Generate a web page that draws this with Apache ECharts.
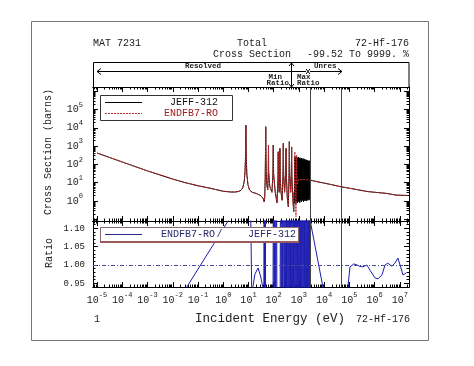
<!DOCTYPE html>
<html><head><meta charset="utf-8">
<script src="https://cdn.jsdelivr.net/npm/echarts@6/dist/echarts.min.js"></script>
<style>html,body{margin:0;padding:0;background:#fff}#c{width:474px;height:366px}</style>
</head><body><div id="c"></div>
<script>
// ---------- tick labels ----------
const xTickExp = [-5,-4,-3,-2,-1,0,1,2,3,4,5,6,7];
const yTickExp = [0,1,2,3,4,5];
const ratioTicks = [0.95,1.00,1.05,1.10];

// ---------- cross sections (eV, barns) ----------
// shared low-energy / resolved part (JEFF-312 and ENDFB7-RO overlap)
const lowE  = [1e-5,3e-5,1e-4,3e-4,1e-3,3e-3,0.01,0.03,0.1,0.3,1,2,3,4,5,6,6.8,7.3,7.6,7.8,7.89,8.0,8.2,8.6,9.5,11,14,20,30,38,42,44,46,47.5,48.3,49,50.5,53,58,61,62,63,70,85,93,96,99,115,135,148,151,154,165,172,176,180,195,215,233,240,247,270,295,308,320,345,380,405,416,428,470,500,513,526,570,620,650];
const lowXS = [420,244,135,79,44,27,15.8,10.2,6.8,5.0,3.4,3.1,3.1,3.3,3.8,5.5,12,40,200,2500,14000,2500,200,30,8,4,3,2.6,2.0,1.4,0.9,1.5,20,800,11500,800,40,8,4,40,1150,40,6,3,30,1150,30,3,0.8,20,490,20,3,20,750,20,3,1.1,30,1430,30,3,25,750,20,1.5,0.49,30,1750,30,3,25,900,20,1.5,0.26,3];
// JEFF-312 dense resonances
const jeffDenseE  = [660,684,708,733,759,786,814,842,872,903,935,968,1002,1037,1074,1112,1151,1192,1234,1278,1323,1370,1418,1468,1520,1574,1630,1687,1747,1809,1873,1939,2007,2078,2152,2228,2307,2388,2473,2560,2700];
const jeffDenseXS = [0.8,260,0.9,230,0.7,250,1.0,240,0.8,220,0.9,250,1.0,210,0.8,230,1.1,200,0.9,220,1.0,190,1.2,210,0.9,180,1.1,200,1.0,170,1.2,180,1.0,160,1.1,170,1.3,150,1.1,160,1.2];
// ENDFB7-RO upper resolved part
const endfMidE  = [670,690,710,760,790,810,830,870,950,1200,2000];
const endfMidXS = [30,490,20,0.14,20,330,20,8,15,15,14.5];
// shared smooth high-energy part
const highE  = [2750,5000,1e4,2e4,4.6e4,1e5,2e5,5e5,1e6,3e6,7e6,1.2e7,2e7];
const highXS = [14,11.5,9.5,7.8,6.0,5.0,4.2,3.3,3.0,2.6,2.1,2.05,2.0];

// ---------- ratio ENDFB7-RO / JEFF-312 ----------
const ratioLowE   = [1e-5,1e-3,0.01,0.0363,1.55,5,10,12.3,13.5,15,18,24,30,37,39,40,42,44,46,48,52,60,80,93,98,104,112,120,128,135,160,178,188,200,215,230,245,262,280,300,315];
const ratioLowVal = [0.86,0.89,0.91,0.94,1.12,1.25,1.30,1.13,0.92,0.94,0.975,0.992,0.97,0.94,0.85,0.70,1.40,0.70,1.40,0.80,0.90,0.90,0.90,0.80,1.40,0.70,1.40,0.70,1.40,0.80,0.90,0.80,1.40,0.70,1.40,0.70,1.40,0.70,1.40,0.70,1.40];
const ratioDenseE   = [330,348,367,387,408,430,453,478,504,531,560,591,623,657,692,730,770,812,856,902,951,1003,1057,1115,1175,1239,1307,1378,1453,1532,1615,1703,1795,1893,1996,2105,2219,2340,2467,2601,2740];
const ratioDenseVal = [0.6,1.5,0.7,1.4,0.6,1.5,0.7,1.5,0.6,1.4,0.7,1.5,0.6,1.5,0.7,1.4,0.6,1.5,0.7,1.5,0.6,1.4,0.7,1.5,0.6,1.5,0.7,1.4,0.6,1.5,0.7,1.5,0.6,1.4,0.7,1.5,0.6,1.5,0.7,1.4,0.6];
const ratioHighE   = [2760,2800,8900,12000,50000,80000,87000,1.05e5,1.5e5,2e5,2.6e5,3.4e5,4.9e5,6.5e5,1.02e6,1.35e6,1.95e6,2.57e6,3.3e6,4.8e6,6.3e6,8.3e6,1.1e7,1.32e7,1.74e7];
const ratioHighVal = [1.30,1.12,0.94,0.90,0.88,0.90,0.94,0.995,1.003,1.0,0.996,0.995,1.0,0.986,0.965,0.962,0.973,1.0,1.005,0.997,1.005,1.019,0.992,0.973,0.978];

// energy-range boundaries (eV)
const boundaryE = [2730, 46000];

// ---------- build ----------
const F = 'Liberation Mono';
const L = Math.log10;
const XMIN = -5.16, XMAX = 7.36;
const YMIN = -1.093, YMAX = 6.23;
const RMIN = 0.94, RMAX = 1.12;

function pairs(E, V, logY){ return E.map((e,i)=>[L(e), logY ? L(V[i]) : V[i]]); }
const jeffData = pairs(lowE.concat(jeffDenseE, highE), lowXS.concat(jeffDenseXS, highXS), true);
const endfData = pairs(lowE.concat(endfMidE, highE), lowXS.concat(endfMidXS, highXS), true);
const ratioData = pairs(ratioLowE.concat(ratioDenseE, ratioHighE), ratioLowVal.concat(ratioDenseVal, ratioHighVal), false);

function minorLog(lo, hi){ const out=[]; for(let d=Math.floor(lo)-1; d<=Math.ceil(hi); d++) for(let k=2;k<=9;k++){const v=d+L(k); if(v>lo && v<hi) out.push(v);} return out; }
const xMinor = minorLog(XMIN, XMAX);
const yMajor = [-1,0,1,2,3,4,5,6];
const yMinor = minorLog(YMIN, YMAX);
const rMinor = []; for(let i=94;i<=112;i++){ if(i%5) rMinor.push(i/100); }

const richSup = {
  a:{fontFamily:F, fontSize:10, color:'#222', lineHeight:16},
  s:{fontFamily:F, fontSize:7, color:'#222', lineHeight:7, verticalAlign:'top'}
};
const supFmt = v => '{a|10}{s|' + Math.round(v) + '}';

function axis(grid, pos, min, max, ticks, len, label){
  return {type:'value', gridIndex:grid, position:pos, min, max,
    splitLine:{show:false},
    axisLine:{show:true, onZero:false, lineStyle:{color:'#000', width:1}},
    axisTick:{show:true, inside:true, length:len, customValues:ticks, lineStyle:{color:'#000', width:1}},
    axisLabel: label || {show:false}};
}
const common = {show:true, showMinLabel:true, showMaxLabel:true, hideOverlap:false};
const xLabel = Object.assign({customValues:xTickExp, formatter:supFmt, rich:richSup, margin:5}, common);
const yLabel = Object.assign({customValues:yTickExp, formatter:supFmt, rich:richSup, margin:10}, common);
const rLabel = Object.assign({customValues:ratioTicks, formatter:v=>v.toFixed(2), fontFamily:F, fontSize:9, color:'#222', margin:8}, common);

const xAxes = [], yAxes = [];
[0,1].forEach(gi=>{
  xAxes.push(axis(gi, 'bottom', XMIN, XMAX, xTickExp, 5, gi===1 ? xLabel : null));
  xAxes.push(axis(gi, 'bottom', XMIN, XMAX, xMinor, 2.5));
  xAxes.push(axis(gi, 'top', XMIN, XMAX, xTickExp, 5));
  xAxes.push(axis(gi, 'top', XMIN, XMAX, xMinor, 2.5));
});
yAxes.push(axis(0, 'left', YMIN, YMAX, yMajor, 5, yLabel));
yAxes.push(axis(0, 'left', YMIN, YMAX, yMinor, 2.5));
yAxes.push(axis(0, 'right', YMIN, YMAX, yMajor, 5));
yAxes.push(axis(0, 'right', YMIN, YMAX, yMinor, 2.5));
yAxes.push(axis(1, 'left', RMIN, RMAX, ratioTicks, 5, rLabel));
yAxes.push(axis(1, 'left', RMIN, RMAX, rMinor, 2.5));
yAxes.push(axis(1, 'right', RMIN, RMAX, ratioTicks, 5));
yAxes.push(axis(1, 'right', RMIN, RMAX, rMinor, 2.5));

const vLines = boundaryE.map(e=>({xAxis:L(e)}));
const mlBase = {silent:true, symbol:'none', label:{show:false}, animation:false};

// ---------- graphic annotations ----------
const g = [];
function T(x,y,text,o){ o=o||{}; const al=o.align||'left';
  g.push({type:'text', x, y, z:100, rotation:o.rot||0, silent:true,
    style:{text, fill:o.color||'#222', fontFamily:F, fontSize:o.size||10, fontWeight:o.weight||'normal',
      align:al, textAlign:al, verticalAlign:'middle', textVerticalAlign:'middle'}}); }
function Ln(x1,y1,x2,y2,o){ o=o||{}; g.push({type:'line', z:o.z||100, silent:true, shape:{x1,y1,x2,y2}, style:{stroke:o.color||'#000', lineWidth:o.w||1, lineDash:o.dash||null}}); }
function PL(pts,o){ o=o||{}; g.push({type:'polyline', z:100, silent:true, shape:{points:pts}, style:{stroke:o.color||'#000', lineWidth:1, fill:null}}); }
function R(x,y,w,h,o){ g.push({type:'rect', z:o.z||99, silent:true, shape:{x,y,width:w,height:h}, style:{fill:o.fill||null, stroke:o.stroke||'#000', lineWidth:o.w||1}}); }

R(31.5,21.5,397,319,{stroke:'#777', z:1});
// header
T(93,43,'MAT 7231');
T(252,43,'Total',{align:'center'});
T(409,43,'72-Hf-176',{align:'right'});
T(252,54,'Cross Section',{align:'center'});
T(409,54,'-99.52 To 9999. %',{align:'right'});
// energy range band
R(93.5,62.5,315.5,25,{stroke:'#000'});
T(203,66,'Resolved',{align:'center', size:7.5, weight:'bold'});
Ln(97,71.5,306,71.5);
PL([[101,68.5],[97,71.5],[101,74.5]]);
Ln(306,69,310,74); Ln(306,74,310,69);
Ln(310,71.5,342,71.5);
PL([[338,68.5],[342,71.5],[338,74.5]]);
T(314,66,'Unres',{size:7.5, weight:'bold'});
Ln(291.5,63,291.5,87);
PL([[289,66],[291.5,63],[294,66]]);
PL([[289,84],[291.5,87],[294,84]]);
T(282,77,'Min',{align:'right', size:7.5, weight:'bold'});
T(289,83,'Ratio',{align:'right', size:7.5, weight:'bold'});
T(297,77,'Max',{size:7.5, weight:'bold'});
T(297,83,'Ratio',{size:7.5, weight:'bold'});
// main legend
R(100.5,95.5,132,25,{fill:'#fff', stroke:'#333'});
Ln(105,102.5,142,102.5,{color:'#000'});
Ln(105,113.5,142,113.5,{color:'#c03030', dash:[2,1]});
T(218,102.5,'JEFF-312',{align:'right', color:'#111'});
T(218,113.5,'ENDFB7-RO',{align:'right', color:'#a02020'});
// ratio legend
R(100.5,227.5,198,14,{fill:'#fff', stroke:'#8a6a6a'});
Ln(100,242,299,242,{color:'#9a5a5a', w:2});
Ln(105,234.5,142,234.5,{color:'#2a2a8a'});
T(215,234.5,'ENDFB7-RO',{align:'right', color:'#2a2a6a'});
T(219.5,234.5,'/',{align:'center', color:'#2a2a6a'});
T(248,234.5,'JEFF-312',{color:'#2a2a6a'});
// axis titles
T(48,152,'Cross Section (barns)',{align:'center', rot:Math.PI/2});
T(49,253,'Ratio',{align:'center', rot:Math.PI/2});
T(270,319,'Incident Energy (eV)',{align:'center', size:12.5});
T(97,319,'1',{align:'center'});
T(410,319,'72-Hf-176',{align:'right'});

const chart = echarts.init(document.getElementById('c'), null, {renderer:'canvas'});
chart.setOption({
  animation:false,
  backgroundColor:'#fff',
  grid:[{left:93, top:87, width:316, height:134, containLabel:false},
        {left:93, top:221, width:316, height:66, containLabel:false}],
  xAxis:xAxes, yAxis:yAxes,
  series:[
    {type:'line', xAxisIndex:0, yAxisIndex:0, data:jeffData, showSymbol:false, symbol:'none', clip:true,
     lineStyle:{color:'#000', width:1}, z:2,
     markLine:Object.assign({data:vLines, lineStyle:{color:'#444', width:1, type:'solid'}}, mlBase)},
    {type:'line', xAxisIndex:0, yAxisIndex:0, data:endfData, showSymbol:false, symbol:'none', clip:true,
     lineStyle:{color:'#c02828', width:1, type:[2,1]}, z:3},
    {type:'line', xAxisIndex:4, yAxisIndex:4, data:ratioData, showSymbol:false, symbol:'none', clip:true,
     lineStyle:{color:'#1c1cb0', width:1}, z:3,
     markLine:Object.assign({data:vLines.concat([{yAxis:1.0, lineStyle:{color:'#4a4aa0', type:[4,2,1,2]}}]),
       lineStyle:{color:'#444', width:1, type:'solid'}}, mlBase)}
  ],
  graphic:g
});
</script></body></html>
